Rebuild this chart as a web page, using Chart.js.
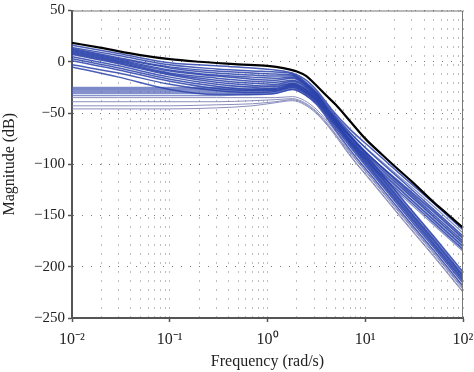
<!DOCTYPE html>
<html>
<head>
<meta charset="utf-8">
<script src="https://cdn.jsdelivr.net/npm/chart.js@4"></script>
<style>
  html, body { margin: 0; padding: 0; background: #fff; }
</style>
</head>
<body>
<canvas id="bode" width="474" height="372"></canvas>
<script>
// nominal response (black)
var blackFreq = [0.01, 0.02, 0.05, 0.1, 0.2, 0.5, 1, 1.5, 2, 2.5, 3, 4, 5, 7, 10, 15, 20, 30, 50, 70, 100];
var blackMag = [18.5, 13.5, 6.5, 2.5, 0, -2.5, -4, -6.5, -9.5, -14, -21, -33, -42, -58, -75, -91, -102, -117, -137, -149, -162];

// frequencies (rad/s) shared by the blue curves
var freq = [0.01, 0.03, 0.1, 0.3, 0.7, 1.2, 1.8, 2.4, 3.2, 4.5, 7, 12, 25, 50, 100];

// blue curves that start high and slope down
var blueSloped = [
  [16, 8, -1, -4, -6, -8, -11, -17, -28, -46, -66, -86, -113, -138, -164],
  [14, 6, -3, -7, -9, -10, -12, -19, -30, -48, -69, -91, -118, -144, -170],
  [13, 4, -5, -9, -11, -12, -13, -20, -31, -51, -72, -99, -136, -170, -205],
  [12, 3, -6, -11, -13, -14, -14, -21, -32, -50, -72, -95, -123, -149, -175],
  [11, 2, -8, -13, -15, -16, -15, -21, -32, -52, -74, -102, -139, -173, -208],
  [10, 1, -9, -14, -17, -18, -16, -22, -33, -51, -73, -97, -125, -151, -177],
  [9, 0, -11, -16, -19, -20, -18, -23, -34, -54, -77, -104, -141, -175, -210],
  [8, -1, -12, -18, -21, -22, -19, -24, -35, -53, -76, -100, -128, -154, -180],
  [7, -2, -13, -20, -23, -24, -21, -26, -36, -55, -79, -106, -143, -177, -212],
  [5, -4, -15, -22, -25, -26, -22, -27, -37, -55, -78, -103, -131, -157, -183],
  [3, -6, -17, -24, -27, -27, -23, -28, -38, -57, -81, -108, -145, -179, -214],
  [1, -8, -19, -26, -28, -28, -24, -29, -38, -54, -73, -95, -121, -146, -172],
  [-3, -11, -22, -28, -30, -29, -25, -30, -40, -59, -83, -110, -147, -181, -216],
  [-5, -15, -27, -32, -32, -31, -27, -32, -42, -61, -86, -113, -150, -184, -219]
];

// blue curves that start flat
var blueFlat = [
  [-25, -25, -25, -25, -24, -23, -20, -25, -34, -50, -70, -90, -116, -141, -167],
  [-26, -26, -26, -26, -26, -25, -21, -26, -35, -53, -73, -100, -137, -171, -206],
  [-27, -27, -27, -27, -27, -26, -22, -27, -36, -52, -73, -95, -122, -147, -173],
  [-28, -28, -28, -28, -28, -27, -23, -28, -37, -55, -76, -103, -140, -174, -209],
  [-29, -29, -29, -29, -29, -28, -24, -29, -38, -54, -76, -99, -126, -152, -178],
  [-30, -30, -30, -30, -30, -29, -25, -30, -39, -57, -80, -107, -144, -178, -213],
  [-31, -31, -31, -31, -31, -30, -26, -31, -40, -56, -78, -102, -129, -155, -181],
  [-33, -33, -33, -33, -32, -31, -27, -32, -41, -57, -80, -105, -133, -159, -185],
  [-35, -35, -35, -35, -35, -35, -34, -38, -47, -63, -88, -115, -152, -186, -221],
  [-39, -39, -39, -39, -38, -37, -36, -40, -49, -65, -91, -118, -155, -189, -224],
  [-43, -43, -43, -42, -41, -39, -37, -41, -50, -66, -89, -116, -153, -187, -222],
  [-46, -46, -46, -45, -43, -40, -38, -42, -51, -67, -92, -119, -156, -190, -225]
];

// axis ticks
var xTickValues = [0.01, 0.1, 1, 10, 100];
var xTickLabels = ['10\u207B\u00B2', '10\u207B\u00B9', '10\u2070', '10\u00B9', '10\u00B2'];
var yTickValues = [50, 0, -50, -100, -150, -200, -250];

var serif = "'Liberation Serif', 'Times New Roman', serif";

function toPoints(xs, ys) {
  return xs.map(function (x, i) { return { x: x, y: ys[i] }; });
}

var datasets = [{
  data: toPoints(blackFreq, blackMag),
  borderColor: '#000',
  borderWidth: 2.2,
  pointRadius: 0,
  cubicInterpolationMode: 'monotone'
}];

blueSloped.forEach(function (row) {
  datasets.push({
    data: toPoints(freq, row),
    borderColor: 'rgba(42, 66, 170, 0.85)',
    borderWidth: 1.5,
    pointRadius: 0,
    cubicInterpolationMode: 'monotone'
  });
});
blueFlat.forEach(function (row, i) {
  datasets.push({
    data: toPoints(freq, row),
    borderColor: i < 8 ? 'rgba(80, 98, 182, 0.7)' : 'rgba(125, 130, 182, 0.9)',
    borderWidth: i < 8 ? 1.2 : 1,
    pointRadius: 0,
    cubicInterpolationMode: 'monotone'
  });
});

// gridline positions on the log axis: 1..9 x each decade
var xGrid = [];
for (var d = -2; d < 2; d++) {
  for (var m = 1; m < 10; m++) xGrid.push(m * Math.pow(10, d));
}
xGrid.push(100);

function isDecade(v) {
  return xTickValues.some(function (t) { return Math.abs(t - v) < t * 1e-6; });
}

// top and right edges of the box
var frame = {
  id: 'frame',
  afterDraw: function (chart) {
    var a = chart.chartArea, c = chart.ctx;
    c.save();
    c.strokeStyle = '#777';
    c.lineWidth = 1;
    c.beginPath();
    c.moveTo(a.left, a.top + 0.5);
    c.lineTo(a.right - 0.5, a.top + 0.5);
    c.lineTo(a.right - 0.5, a.bottom);
    c.stroke();
    c.restore();
  }
};

new Chart(document.getElementById('bode'), {
  type: 'line',
  data: { datasets: datasets },
  plugins: [frame],
  options: {
    responsive: false,
    animation: false,
    devicePixelRatio: 1,
    layout: { padding: { top: 8, right: 11, left: 0, bottom: 0 } },
    plugins: { legend: { display: false }, tooltip: { enabled: false } },
    scales: {
      x: {
        type: 'logarithmic',
        min: 0.01,
        max: 100,
        afterBuildTicks: function (s) {
          s.ticks = xGrid.map(function (v) { return { value: v }; });
        },
        afterFit: function (s) {
          s.height = 54;
          s.paddingLeft = 0;
          s.paddingRight = 0;
        },
        ticks: {
          autoSkip: false,
          maxRotation: 0,
          padding: 8,
          color: '#222',
          font: { family: serif, size: 16 },
          callback: function (v) {
            var i = xTickValues.findIndex(function (t) { return Math.abs(t - v) < t * 1e-6; });
            return i >= 0 ? xTickLabels[i] : '';
          }
        },
        grid: {
          color: 'rgba(80, 80, 80, 0.75)',
          lineWidth: 1,
          tickLength: 4,
          tickColor: function (ctx) {
            return ctx.tick && isDecade(ctx.tick.value) ? '#555' : 'rgba(0,0,0,0)';
          },
          tickWidth: 1.5
        },
        border: { color: '#555', width: 2, dash: [1, 8] },
        title: {
          display: true,
          text: 'Frequency (rad/s)',
          color: '#222',
          font: { family: serif, size: 16 },
          padding: { top: 0, bottom: 1 }
        }
      },
      y: {
        min: -250,
        max: 50,
        afterBuildTicks: function (s) {
          s.ticks = yTickValues.map(function (v) { return { value: v }; });
        },
        afterFit: function (s) { s.width = 72; },
        ticks: {
          padding: 3,
          color: '#222',
          font: { family: serif, size: 15, lineHeight: 1 },
          callback: function (v) { return String(v).replace('-', '\u2212'); }
        },
        grid: {
          color: 'rgba(80, 80, 80, 0.75)',
          lineWidth: 1,
          tickLength: 4,
          tickColor: '#555',
          tickWidth: 1.5
        },
        border: { color: '#555', width: 2, dash: [1, 8] },
        title: {
          display: true,
          text: 'Magnitude (dB)',
          color: '#222',
          font: { family: serif, size: 16 },
          padding: 0
        }
      }
    }
  }
});
</script>
</body>
</html>
